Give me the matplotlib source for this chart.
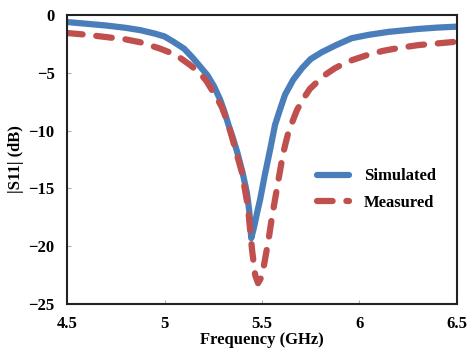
import matplotlib
matplotlib.use('Agg')
import matplotlib.pyplot as plt

# values
sim_freq = [4.5, 4.6, 4.7, 4.8, 4.875, 4.95, 5.0, 5.045, 5.1, 5.145, 5.18, 5.22,
            5.255, 5.285, 5.31, 5.33, 5.35, 5.372, 5.4, 5.423, 5.435, 5.445,
            5.46, 5.475, 5.49, 5.515, 5.541, 5.567, 5.59, 5.618, 5.66, 5.705,
            5.75, 5.808, 5.88, 5.96, 6.05, 6.15, 6.3, 6.4, 6.5]
sim_s11 = [-0.6, -0.75, -0.9, -1.1, -1.3, -1.6, -1.85, -2.3, -2.9, -3.7, -4.4, -5.2,
           -6.2, -7.3, -8.5, -9.6, -10.6, -11.8, -13.6, -15.4, -17.0, -19.3,
           -18.3, -17.1, -16.0, -13.8, -11.7, -9.5, -8.3, -6.9, -5.6, -4.6,
           -3.8, -3.2, -2.6, -2.0, -1.7, -1.45, -1.2, -1.08, -1.0]

meas_freq = [4.5, 4.6, 4.7, 4.8, 4.875, 4.977, 5.03, 5.08, 5.13, 5.18, 5.215, 5.244,
             5.27, 5.295, 5.326, 5.345, 5.37, 5.397, 5.428, 5.449, 5.465, 5.48,
             5.5, 5.515, 5.535, 5.551, 5.582, 5.608, 5.633, 5.659, 5.68, 5.71,
             5.745, 5.782, 5.83, 5.874, 5.92, 5.962, 6.05, 6.12, 6.2, 6.3, 6.4, 6.5]
meas_s11 = [-1.55, -1.7, -1.9, -2.1, -2.35, -2.9, -3.25, -3.7, -4.3, -5.0, -5.7, -6.5,
            -7.2, -8.0, -9.4, -10.5, -12.0, -13.6, -16.6, -20.3, -22.5, -23.2,
            -22.6, -21.2, -19.3, -17.5, -14.5, -12.0, -10.3, -9.1, -8.2, -7.3,
            -6.4, -5.8, -5.1, -4.6, -4.2, -3.9, -3.4, -3.1, -2.85, -2.6, -2.45, -2.3]

x_ticks = [4.5, 5, 5.5, 6, 6.5]
x_labels = ['4.5', '5', '5.5', '6', '6.5']
y_ticks = [0, -5, -10, -15, -20, -25]

plt.rcParams['font.family'] = ['Liberation Serif', 'DejaVu Serif']
plt.rcParams['font.weight'] = 'bold'

fig = plt.figure(figsize=(4.74, 3.51), dpi=100)
ax = fig.add_axes([0.1414, 0.134, 0.8226, 0.823])

ax.plot(sim_freq, sim_s11, color='#4a7ebb', lw=4.5, solid_capstyle='round',
        solid_joinstyle='round', label='Simulated')
ax.plot(meas_freq, meas_s11, color='#c0504d', lw=4.5, dashes=(2.5, 2.2),
        dash_capstyle='round', dash_joinstyle='round', label='Measured')

ax.set_xlim(4.5, 6.5)
ax.set_ylim(-25, 0)
ax.set_xticks(x_ticks)
ax.set_xticklabels(x_labels)
ax.set_yticks(y_ticks)
ax.tick_params(direction='in', length=3, width=0.8, color='#b0b0b0',
               labelsize=12)
ax.tick_params(axis='y', pad=9)
ax.tick_params(axis='x', pad=9)
for lbl in ax.get_xticklabels() + ax.get_yticklabels():
    lbl.set_fontweight('bold')
for sp in ax.spines.values():
    sp.set_linewidth(1.5)
    sp.set_color('#222222')

ax.set_xlabel('Frequency (GHz)', fontsize=12, fontweight='bold', labelpad=0)
ax.set_ylabel('|S11| (dB)', fontsize=12, fontweight='bold', labelpad=3)

ax.legend(loc='center right', bbox_to_anchor=(0.985, 0.395), frameon=False,
          prop={'size': 12, 'weight': 'bold'}, handlelength=1.9,
          handletextpad=0.9, labelspacing=0.65)

fig.savefig('out.png', dpi=100)
